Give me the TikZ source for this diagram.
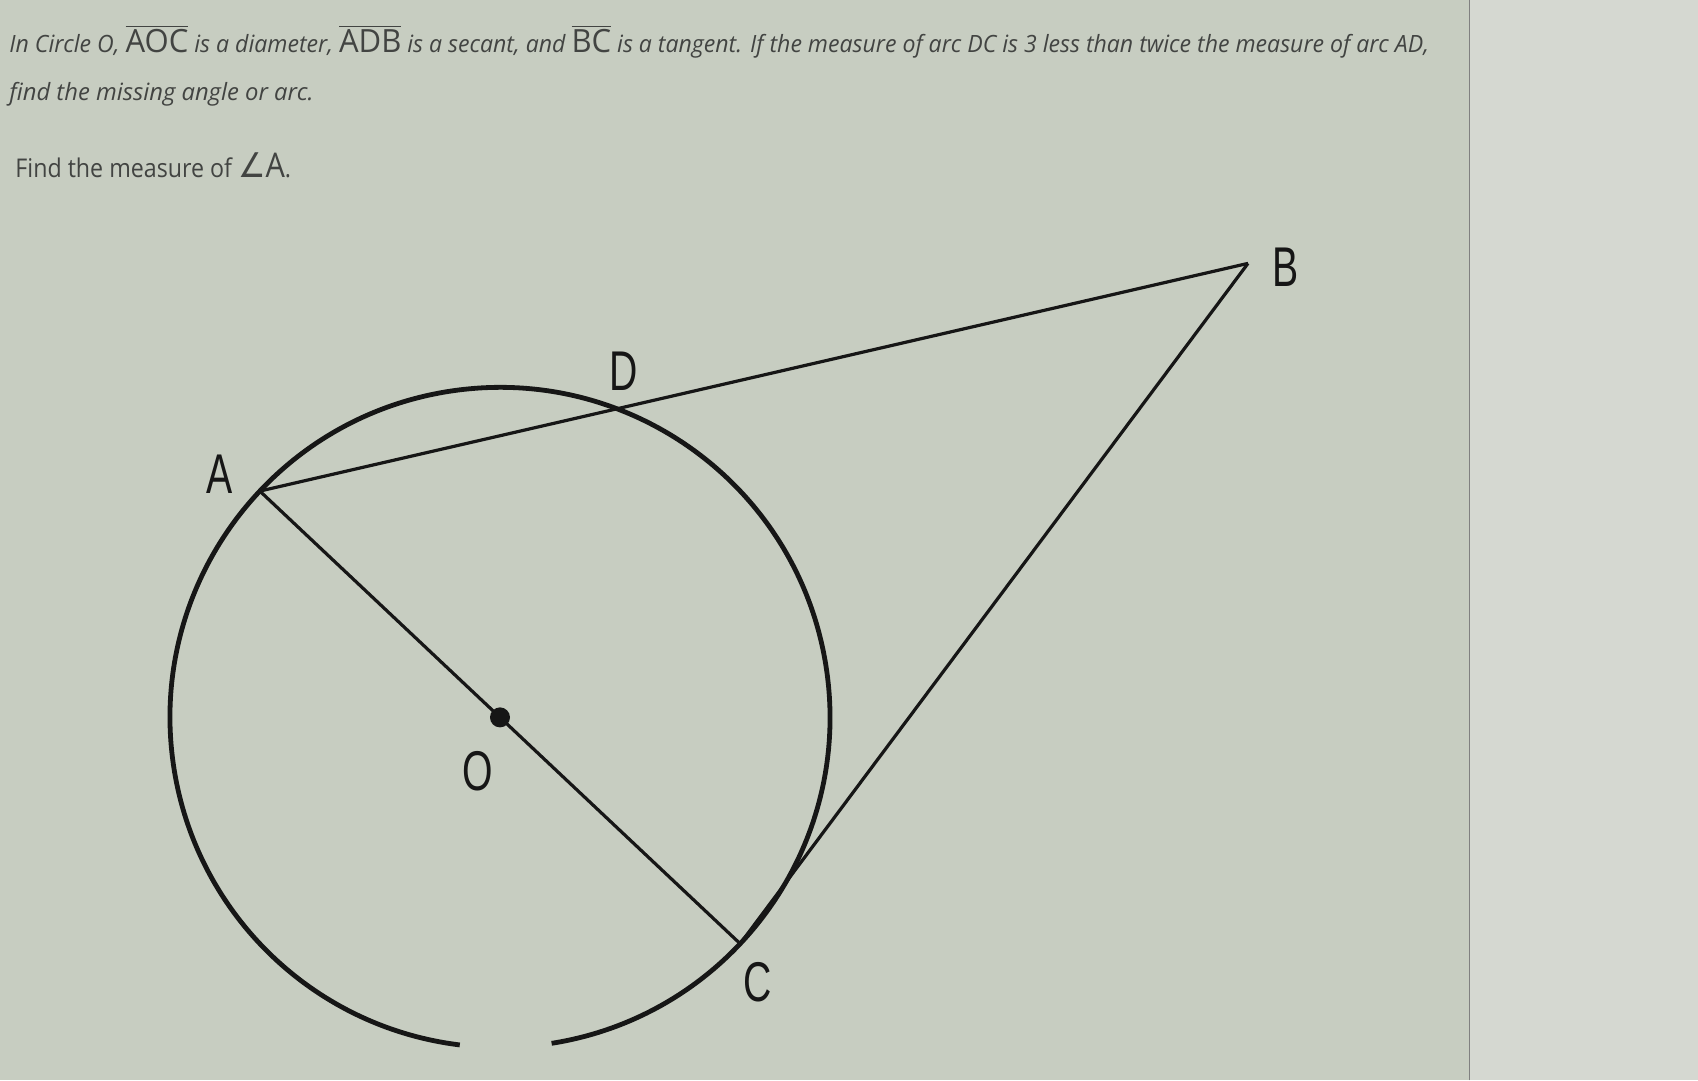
\documentclass[tikz,border=0pt]{standalone}
\usepackage{fontspec}
\setmainfont{Open Sans}
\setsansfont{Liberation Sans}
\newfontfamily\symf{DejaVu Sans}
\usepackage{graphicx}
\usetikzlibrary{calc}
\definecolor{screen}{RGB}{199,205,193}
\definecolor{screenright}{RGB}{213,216,209}
\definecolor{ink}{RGB}{22,22,22}
\definecolor{txt}{RGB}{66,68,66}
\newcommand{\seg}[1]{$\overline{\hbox{\upshape\fontsize{16}{16}\selectfont #1}}$}
\newcommand{\lbl}[1]{\scalebox{0.7}[1]{#1}}
\begin{document}
\begin{tikzpicture}[x=0.5pt,y=0.5pt,
    pointlabel/.style={font=\sffamily\fontsize{28}{28}\selectfont, inner sep=0pt, text=ink},
    stmt/.style={anchor=base west, inner sep=0pt, text=txt},
    rim/.style={line width=2.4pt, draw=ink},
    seg/.style={line width=1.6pt, draw=ink}]
  \fill[screen] (0,0) rectangle (1469,1080);
  \fill[screenright] (1469,0) rectangle (1698,1080);
  \draw[gray, line width=0.4pt] (1469,0) -- (1469,1080);
  \useasboundingbox (0,0) rectangle (1698,1080);

  \node[stmt, font=\itshape\fontsize{11.9}{12}\selectfont] (line1) at (9,1028)
    {\scalebox{0.97}[1]{In Circle O, \seg{AOC} is a diameter, \seg{ADB} is a secant, and \seg{BC} is a tangent. If the measure of arc DC is 3 less than twice the measure of arc AD,}};
  \node[stmt, font=\itshape\fontsize{11.9}{12}\selectfont] (line2) at (9,980)
    {find the missing angle or arc.};
  \node[stmt, font=\fontsize{12.9}{13}\selectfont] (line3) at (15,903)
    {\scalebox{0.9}[1]{Find the measure of {\fontsize{17}{17}\selectfont{\symf ∠}A}.}};

  \coordinate (O) at (500,363);
  \coordinate (A) at ($(O)+(136.7:330)$);
  \coordinate (C) at ($(O)+(-43.3:330)$);
  \coordinate (D) at ($(O)+(69.4:330)$);
  \coordinate (B) at (1248,817);

  \draw[rim] (O) ++(279:330) arc[start angle=279, end angle=623, radius=330];
  \draw[seg] (A) -- (B);
  \draw[seg] (A) -- (C);
  \draw[seg] (B) -- (C);
  \node[circle, fill=ink, minimum size=10pt, inner sep=0pt] (Odot) at (O) {};

  \node[pointlabel] (labelA) at (220,606) {\lbl{A}};
  \node[pointlabel] (labelD) at (624,709) {\lbl{D}};
  \node[pointlabel] (labelB) at (1286,813) {\lbl{B}};
  \node[pointlabel] (labelO) at (478,309) {\lbl{O}};
  \node[pointlabel] (labelC) at (758,98) {\lbl{C}};
\end{tikzpicture}
\end{document}
